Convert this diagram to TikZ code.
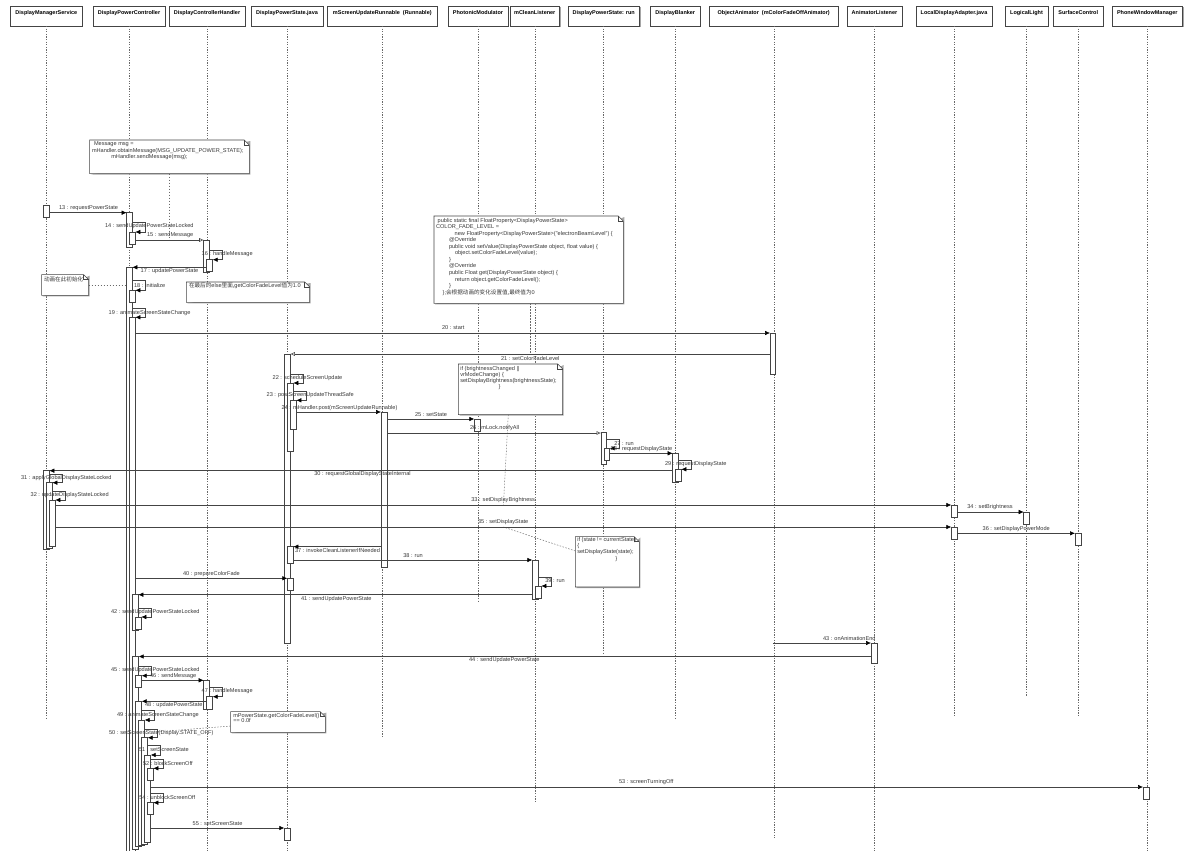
\documentclass[tikz,border=0pt]{standalone}
\usepackage{fontspec}
\setmainfont{Liberation Sans}
\newfontfamily\cjk{Noto Sans CJK SC}
\usetikzlibrary{arrows.meta,shadows}
\definecolor{ln}{HTML}{444444}
\definecolor{tx}{HTML}{383838}
\tikzset{
  head/.style={draw=ln,line width=0.6pt,fill=white,inner sep=0pt,outer sep=0pt,anchor=north west,
    general shadow={shadow xshift=1.4pt,shadow yshift=-1.4pt,fill=black!35}},
  life/.style={draw=ln!80,line width=0.45pt,dash pattern=on 1.3pt off 1.3pt},
  actbox/.style={draw=ln,line width=0.55pt,fill=white,inner sep=0pt,outer sep=0pt,anchor=north west},
  msg/.style={draw=ln,line width=0.55pt,-{Latex[black,length=5pt,width=4.5pt]}},
  amsg/.style={draw=ln,line width=0.55pt,-{Latex[open,fill=white,length=4.5pt,width=4pt]}},
  lbl/.style={inner sep=0pt,outer sep=0pt,anchor=west,text=tx,font=\fontsize{5.6}{6}\selectfont},
  notearea/.style={inner sep=0pt,outer sep=0pt,anchor=north west},
  notetext/.style={inner sep=0pt,outer sep=0pt,anchor=north west,align=left,text=tx},
  notelink/.style={draw=ln!80,line width=0.45pt,dash pattern=on 1.5pt off 1.5pt},
}
\newcommand\headr[4]{%
  \pgfmathsetmacro\myW{#3-#2}%
  \node[head,minimum width=\myW pt,minimum height=20pt] (#1) at (#2,6) {};
  \node[inner sep=0pt,font=\fontsize{5.5}{6}\selectfont\bfseries] at ([yshift=3.3pt]#1.center) {#4};}
\newcommand\lifel[2]{\draw[life] (#1.south) -- (#1.south |- 0,#2);}
\newcommand\actn[5]{%
  \pgfmathsetmacro\myW{#4-#2}\pgfmathsetmacro\myH{#5-#3}%
  \node[actbox,minimum width=\myW pt,minimum height=\myH pt] (#1) at (#2,#3) {};}
\newcommand\notebox[5]{%
  \pgfmathsetmacro\myW{#4-#2}\pgfmathsetmacro\myH{#5-#3}%
  \node[notearea,minimum width=\myW pt,minimum height=\myH pt] (#1) at (#2,#3) {};
  \fill[black!35] ([shift={(1pt,-1pt)}]#1.north east) |- ([shift={(1pt,-1pt)}]#1.south west) -- cycle;
  \filldraw[draw=ln,line width=0.55pt,fill=white] (#1.north west) -- ([xshift=-5pt]#1.north east) -- ([yshift=-5pt]#1.north east) -- (#1.south east) -- (#1.south west) -- cycle;
  \draw[ln,line width=0.45pt] ([xshift=-5pt]#1.north east) -- ([xshift=-5pt,yshift=-5pt]#1.north east) -- ([yshift=-5pt]#1.north east);}
% straight message at height y
\newcommand\msgh[4][msg]{\draw[#1] (#2 |- 0,#4) -- (#3 |- 0,#4);}
% self message
\newcommand\selfm[4]{\draw[msg] (#1 |- 0,#3) -- ++(13,0) |- (#2.east |- 0,#4);}
\newcommand\lab[3]{\node[lbl] at (#1,#2) {#3};}
\begin{document}
\begin{tikzpicture}[x=1pt,y=-1pt]
\useasboundingbox[fill=white] (0,0) rectangle (1200,851);
% headers
\headr{h1}{10.7}{82}{DisplayManagerService}
\headr{h2}{93}{165}{DisplayPowerController}
\headr{h3}{169}{245}{DisplayControllerHandler}
\headr{h4}{251}{323}{DisplayPowerState.java}
\headr{h5}{327.6}{437}{mScreenUpdateRunnable\ \ (Runnable)}
\headr{h6}{448}{508}{PhotonicModulator}
\headr{h7}{510}{559.5}{mCleanListener}
\headr{h8}{568}{639.4}{DisplayPowerState: run}
\headr{h9}{650.5}{700}{DisplayBlanker}
\headr{h10}{709.5}{838}{ObjectAnimator\ \ (mColorFadeOffAnimator)}
\headr{h11}{847}{902}{AnimatorListener}
\headr{h12}{916}{992}{LocalDisplayAdapter.java}
\headr{h13}{1005}{1048}{LogicalLight}
\headr{h14}{1053.5}{1103}{SurfaceControl}
\headr{h15}{1112}{1182.5}{PhoneWindowManager}
% lifelines
\lifel{h1}{719}\lifel{h2}{856}\lifel{h3}{856}\lifel{h4}{856}\lifel{h5}{738}
\lifel{h6}{603}\lifel{h7}{802}\lifel{h8}{654}\lifel{h9}{719}\lifel{h10}{838}
\lifel{h11}{856}\lifel{h12}{717}\lifel{h13}{696}\lifel{h14}{717}\lifel{h15}{856}
% notes
\notebox{nmsg}{89.7}{140}{249.3}{173.7}
\node[notetext,font=\fontsize{5.6}{6.3}\selectfont] at (92,142) {\hspace*{2pt}Message msg =\\mHandler.obtainMessage(MSG\_UPDATE\_POWER\_STATE);\\\hspace*{19.3pt}mHandler.sendMessage(msg);};
\notebox{ninit}{41.7}{274.7}{88.7}{295.3}
\node[notetext,font=\fontsize{5.6}{6.3}\selectfont\cjk] at (44,276.5) {动画在此初始化};
\notebox{nelse}{186.3}{282}{309.7}{302.3}
\node[notetext,font=\fontsize{5.6}{6.3}\selectfont] at (189,283) {{\cjk 在最后的}else{\cjk 里面,}getColorFadeLevel{\cjk 值为}1.0};
\notebox{nbig}{434}{216}{623.3}{303.3}
\node[notetext,font=\fontsize{5.6}{6.55}\selectfont] at (436,218) {\hspace*{1.7pt}public static final FloatProperty<DisplayPowerState>\\COLOR\_FADE\_LEVEL =\\\hspace*{18.7pt}new FloatProperty<DisplayPowerState>("electronBeamLevel") \{\\\hspace*{13pt}@Override\\\hspace*{13pt}public void setValue(DisplayPowerState object, float value) \{\\\hspace*{19pt}object.setColorFadeLevel(value);\\\hspace*{13pt}\}\\\hspace*{13pt}@Override\\\hspace*{13pt}public Float get(DisplayPowerState object) \{\\\hspace*{19pt}return object.getColorFadeLevel();\\\hspace*{13pt}\}\\\hspace*{6.7pt}\};{\cjk 会根据动画的变化设置值,最终值为}0};
\notebox{nbri}{458.3}{364}{562.7}{414.7}
\node[notetext,font=\fontsize{5.6}{6.1}\selectfont] at (460.3,366) {if (brightnessChanged ||\\vrModeChange) \{\\setDisplayBrightness(brightnessState);\\\hspace*{38.4pt}\}};
\notebox{nstate}{575.3}{536.7}{639.3}{587}
\node[notetext,font=\fontsize{5.6}{6.1}\selectfont] at (577.3,537.7) {if (state != currentState)\\\{\\setDisplayState(state);\\\hspace*{38pt}\}};
\notebox{npow}{230.7}{711.7}{325.3}{732.3}
\node[notetext,font=\fontsize{5.6}{5.4}\selectfont] at (233.3,713.5) {mPowerState.getColorFadeLevel()\\== 0.0f};
% note links
\coordinate (p15) at (169.3,240);
\coordinate (p18) at (129.3,285);
\coordinate (p21) at (530,354);
\coordinate (p33) at (503.4,505);
\coordinate (p35) at (503.4,527);
\coordinate (p50) at (157.7,731.7);
\draw[notelink] (nmsg.south -| p15) -- (p15);
\draw[notelink] (ninit.east |- p18) -- (p18);
\draw[notelink] (nbig.south -| p21) -- (p21);
\draw[notelink] ([xshift=-2.2pt]nbri.south) -- (p33);
\draw[notelink] (nstate.west |- 0,551) -- (p35);
\draw[notelink] (npow.west |- 0,726) -- (p50);
% activations
\actn{a13}{43.3}{205.7}{49.3}{217.7}
\actn{a1}{126.7}{212.7}{132.3}{247.3}
\actn{a1i}{129.3}{232}{135.3}{244}
\actn{h16}{203.7}{240}{209.7}{272.3}
\actn{h16i}{206.7}{259.7}{212.7}{271.7}
\actn{b1}{126.7}{267.3}{132.3}{856}
\actn{b2}{129.3}{290.3}{135.3}{302.3}
\actn{b3}{129.3}{317.3}{135.3}{856}
\actn{an}{770}{333}{775.7}{374.3}
\actn{s1}{284.3}{354}{290.3}{643.3}
\actn{s2}{287.3}{383}{293.3}{451.3}
\actn{s3}{290.3}{400.3}{296.3}{429.3}
\actn{r1}{381}{412}{387}{567.3}
\actn{ph}{474.3}{419}{480.3}{431}
\actn{pr}{601}{432.7}{606.7}{464}
\actn{pri}{604}{448.3}{609.7}{460.3}
\actn{bl}{672.7}{453.3}{678.7}{482.7}
\actn{bli}{675.7}{469.3}{681.3}{481.3}
\actn{m1}{43.3}{470.7}{49.3}{549.3}
\actn{m2}{46.3}{482.7}{52.3}{548}
\actn{m3}{49.3}{500}{55.3}{546.7}
\actn{lo1}{951.3}{505}{957}{517.3}
\actn{ll}{1023.7}{512}{1029.7}{524.3}
\actn{lo2}{951.3}{527}{957}{539.3}
\actn{sc}{1075}{533.3}{1081}{545.3}
\actn{s37}{287.3}{546.7}{293.3}{563.3}
\actn{cl}{532.3}{560}{538}{599.7}
\actn{cli}{535.3}{586}{541.3}{598.3}
\actn{s40}{287.3}{578.3}{293.3}{590.7}
\actn{c1}{132.3}{594.7}{138.3}{630.3}
\actn{c2}{135.3}{617}{141.3}{629}
\actn{al}{871}{643}{877}{663}
\actn{d1}{132.7}{656}{138.7}{849}
\actn{d2}{135.7}{675.7}{141.7}{687.3}
\actn{h47}{203.7}{680.3}{209.7}{709.7}
\actn{h47i}{206.7}{696.7}{212.7}{709}
\actn{e1}{135.7}{701.3}{141.7}{846.7}
\actn{e2}{138.7}{720}{144.7}{845.7}
\actn{e3}{141.7}{737.7}{147.7}{844.3}
\actn{e4}{144.7}{755}{150.7}{842.7}
\actn{e5}{147.3}{768.3}{153.3}{780.7}
\actn{e6}{147.3}{802.7}{153.3}{814.7}
\actn{pw}{1143}{787}{1149}{799}
\actn{s55}{284.3}{828}{290.3}{840.3}
% messages
\msgh{a13.east}{a1.west}{212.7}
\selfm{a1.east}{a1i}{222.7}{232}
\msgh[amsg]{a1i.east}{h16.west}{240}
\selfm{h16.east}{h16i}{250.3}{259.7}
\msgh{h16i.west}{b1.east}{267.3}
\selfm{b1.east}{b2}{280.7}{290.3}
\selfm{b1.east}{b3}{308}{317.3}
\msgh{b3.east}{an.west}{333}
\msgh[amsg]{an.west}{s1.east}{354}
\selfm{s1.east}{s2}{374}{383}
\selfm{s2.east}{s3}{391}{400.3}
\msgh{s3.east}{r1.west}{412}
\msgh{r1.east}{ph.west}{419}
\msgh[amsg]{r1.east}{pr.west}{433}
\selfm{pr.east}{pri}{439.3}{448.3}
\msgh{pri.east}{bl.west}{453.3}
\selfm{bl.east}{bli}{460.3}{469.3}
\msgh{bl.west}{m1.east}{470.7}
\selfm{m1.east}{m2}{474.7}{482.7}
\selfm{m2.east}{m3}{491.3}{500}
\msgh{m3.east}{lo1.west}{505}
\msgh{lo1.east}{ll.west}{512}
\msgh{m3.east}{lo2.west}{527}
\msgh{lo2.east}{sc.west}{533.3}
\msgh{r1.west}{s37.east}{546.7}
\msgh{s37.east}{cl.west}{560}
\selfm{cl.east}{cli}{577.7}{586}
\msgh{b3.east}{s40.west}{578.3}
\msgh{cl.west}{c1.east}{594.7}
\selfm{c1.east}{c2}{608.3}{617}
\msgh{an.south}{al.west}{643}
\msgh{al.west}{d1.east}{656.5}
\selfm{d1.east}{d2}{666.7}{675.7}
\msgh{d2.east}{h47.west}{680.3}
\selfm{h47.east}{h47i}{687.3}{696.7}
\msgh{h47i.west}{e1.east}{701.3}
\selfm{e1.east}{e2}{710.7}{720}
\selfm{e2.east}{e3}{729}{737.7}
\selfm{e3.east}{e4}{745.3}{755}
\selfm{e4.east}{e5}{759.3}{768.3}
\msgh{e4.east}{pw.west}{787}
\selfm{e4.east}{e6}{793.7}{802.7}
\msgh{e4.east}{s55.west}{828}
% labels
\lab{59}{207.7}{13 : requestPowerState}
\lab{105}{226.3}{14 : sendUpdatePowerStateLocked}
\lab{147}{235.3}{15 : sendMessage}
\lab{201.7}{254}{16 : handleMessage}
\lab{140.7}{271.3}{17 : updatePowerState}
\lab{134}{285}{18 : initialize}
\lab{108.7}{312.7}{19 : animateScreenStateChange}
\lab{442}{328}{20 : start}
\lab{501}{358}{21 : setColorFadeLevel}
\lab{272.7}{378}{22 : scheduleScreenUpdate}
\lab{266.7}{395}{23 : postScreenUpdateThreadSafe}
\lab{281.7}{407.7}{24 : mHandler.post(mScreenUpdateRunnable)}
\lab{415}{414.3}{25 : setState}
\lab{470}{428}{26 : mLock.notifyAll}
\lab{614.3}{443.3}{27 : run}
\lab{610.7}{449.3}{28 : requestDisplayState}
\lab{665}{464}{29 : requestDisplayState}
\lab{314.3}{474.3}{30 : requestGlobalDisplayStateInternal}
\lab{21}{477.7}{31 : applyGlobalDisplayStateLocked}
\lab{30.7}{494.7}{32 : updateDisplayStateLocked}
\lab{471.3}{500.3}{33 : setDisplayBrightness}
\lab{967.3}{507.3}{34 : setBrightness}
\lab{478}{522.3}{35 : setDisplayState}
\lab{982.7}{528.7}{36 : setDisplayPowerMode}
\lab{295}{550}{37 : invokeCleanListenerIfNeeded}
\lab{403.3}{555.7}{38 : run}
\lab{545.3}{581}{39 : run}
\lab{183}{574}{40 : prepareColorFade}
\lab{301}{598.7}{41 : sendUpdatePowerState}
\lab{111}{612}{42 : sendUpdatePowerStateLocked}
\lab{823}{638}{43 : onAnimationEnd}
\lab{469}{660.5}{44 : sendUpdatePowerState}
\lab{111}{670.3}{45 : sendUpdatePowerStateLocked}
\lab{150}{675.7}{46 : sendMessage}
\lab{201.7}{690.7}{47 : handleMessage}
\lab{145}{705}{48 : updatePowerState}
\lab{117}{715}{49 : animateScreenStateChange}
\lab{109}{732.7}{50 : setScreenState(Display.STATE\_OFF)}
\lab{139}{749.3}{51 : setScreenState}
\lab{143}{763.3}{52 : blockScreenOff}
\lab{619}{782}{53 : screenTurningOff}
\lab{139.3}{797.3}{54 : unblockScreenOff}
\lab{192.7}{823.7}{55 : setScreenState}
\end{tikzpicture}
\end{document}
